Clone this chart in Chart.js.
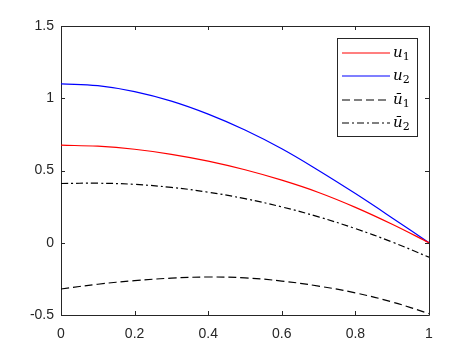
<!DOCTYPE html>
<html><head><meta charset="utf-8">
<script src="https://cdn.jsdelivr.net/npm/chart.js@4"></script>
<style>html,body{margin:0;padding:0;background:#fff}#wrap{width:474px;height:355px}</style>
</head><body><div id="wrap"><canvas id="c" width="474" height="355"></canvas></div>
<script>
const xValues = [0,0.1,0.2,0.3,0.4,0.5,0.6,0.7,0.8,0.9,1.0];
const u1 = [0.675,0.668,0.647,0.612,0.565,0.505,0.433,0.348,0.245,0.128,0.0];
const u2 = [1.10,1.087,1.046,0.98,0.89,0.78,0.65,0.50,0.34,0.172,0.0];
const ubar1 = [-0.32,-0.287,-0.262,-0.245,-0.237,-0.243,-0.265,-0.30,-0.347,-0.41,-0.49];
const ubar2 = [0.41,0.412,0.404,0.383,0.350,0.305,0.248,0.179,0.098,0.005,-0.10];
const xTicks = [0,0.2,0.4,0.6,0.8,1];
const yTicks = [-0.5,0,0.5,1,1.5];
const legendMain = ['u','u','\u016B','\u016B'];
const legendSub = ['1','2','1','2'];

const pts = a => a.map((v,i)=>({x:xValues[i], y:v}));
const axisColor = '#262626';

const boxPlugin = {
  id:'box',
  beforeDatasetsDraw(chart){
    const {ctx, chartArea:a, scales} = chart;
    ctx.save();
    ctx.strokeStyle = axisColor; ctx.lineWidth = 1;
    ctx.beginPath();
    ctx.rect(Math.round(a.left)+0.5, Math.round(a.top)+0.5, Math.round(a.right-a.left), Math.round(a.bottom-a.top));
    ctx.stroke();
    const L = 4;
    ctx.beginPath();
    xTicks.forEach(t=>{
      const px = Math.round(scales.x.getPixelForValue(t))+0.5;
      ctx.moveTo(px,a.bottom); ctx.lineTo(px,a.bottom-L);
      ctx.moveTo(px,a.top); ctx.lineTo(px,a.top+L);
    });
    yTicks.forEach(t=>{
      const py = Math.round(scales.y.getPixelForValue(t))+0.5;
      ctx.moveTo(a.left,py); ctx.lineTo(a.left+L,py);
      ctx.moveTo(a.right,py); ctx.lineTo(a.right-L,py);
    });
    ctx.stroke();
    ctx.restore();
  },
  afterDraw(chart){
    const {ctx} = chart;
    const bx = 337.5, by = 38.5, bw = 80, bh = 98;
    ctx.save();
    ctx.fillStyle = '#fff'; ctx.fillRect(bx,by,bw,bh);
    ctx.strokeStyle = axisColor; ctx.lineWidth = 1; ctx.strokeRect(bx,by,bw,bh);
    const rows = [53,76,100,123];
    chart.data.datasets.forEach((ds,i)=>{
      const y = rows[i];
      ctx.strokeStyle = ds.borderColor; ctx.lineWidth = 1.2;
      ctx.setLineDash(ds.borderDash || []);
      ctx.beginPath(); ctx.moveTo(342,y); ctx.lineTo(390,y); ctx.stroke();
      ctx.setLineDash([]);
      ctx.fillStyle = '#000';
      ctx.textBaseline = 'alphabetic'; ctx.textAlign='left';
      ctx.font = 'italic 15px "DejaVu Serif", serif';
      ctx.fillText(legendMain[i], 393, y+4);
      const w = ctx.measureText(legendMain[i]).width;
      ctx.font = '11px "DejaVu Serif", serif';
      ctx.fillText(legendSub[i], 393+w, y+7);
    });
    ctx.restore();
  }
};

const common = {fill:false, pointRadius:0, borderWidth:1.2, tension:0.4};
new Chart(document.getElementById('c'), {
  type:'line',
  data:{datasets:[
    {...common, label:'u1', data:pts(u1), borderColor:'#ff0000'},
    {...common, label:'u2', data:pts(u2), borderColor:'#0000ff'},
    {...common, label:'ū1', data:pts(ubar1), borderColor:'#000000', borderDash:[8,4]},
    {...common, label:'ū2', data:pts(ubar2), borderColor:'#000000', borderDash:[7,3,2,3]},
  ]},
  options:{
    responsive:false, animation:false,
    layout:{padding:{left:0, top:26, right:45, bottom:0}},
    plugins:{legend:{display:false}, tooltip:{enabled:false}},
    scales:{
      x:{type:'linear', min:0, max:1,
        afterFit(s){ s.height = 40; },
        afterBuildTicks(s){ s.ticks = xTicks.map(v=>({value:v})); },
        grid:{display:false, drawTicks:false}, border:{display:false},
        ticks:{padding:11, color:axisColor, font:{family:'"Liberation Sans", Arial, sans-serif', size:14},
          callback:v=>String(v)}},
      y:{type:'linear', min:-0.5, max:1.5,
        afterFit(s){ s.width = 61; },
        afterBuildTicks(s){ s.ticks = yTicks.map(v=>({value:v})); },
        grid:{display:false, drawTicks:false}, border:{display:false},
        ticks:{padding:7, color:axisColor, font:{family:'"Liberation Sans", Arial, sans-serif', size:14},
          callback:v=>String(v)}}
    }
  },
  plugins:[boxPlugin]
});
</script></body></html>
